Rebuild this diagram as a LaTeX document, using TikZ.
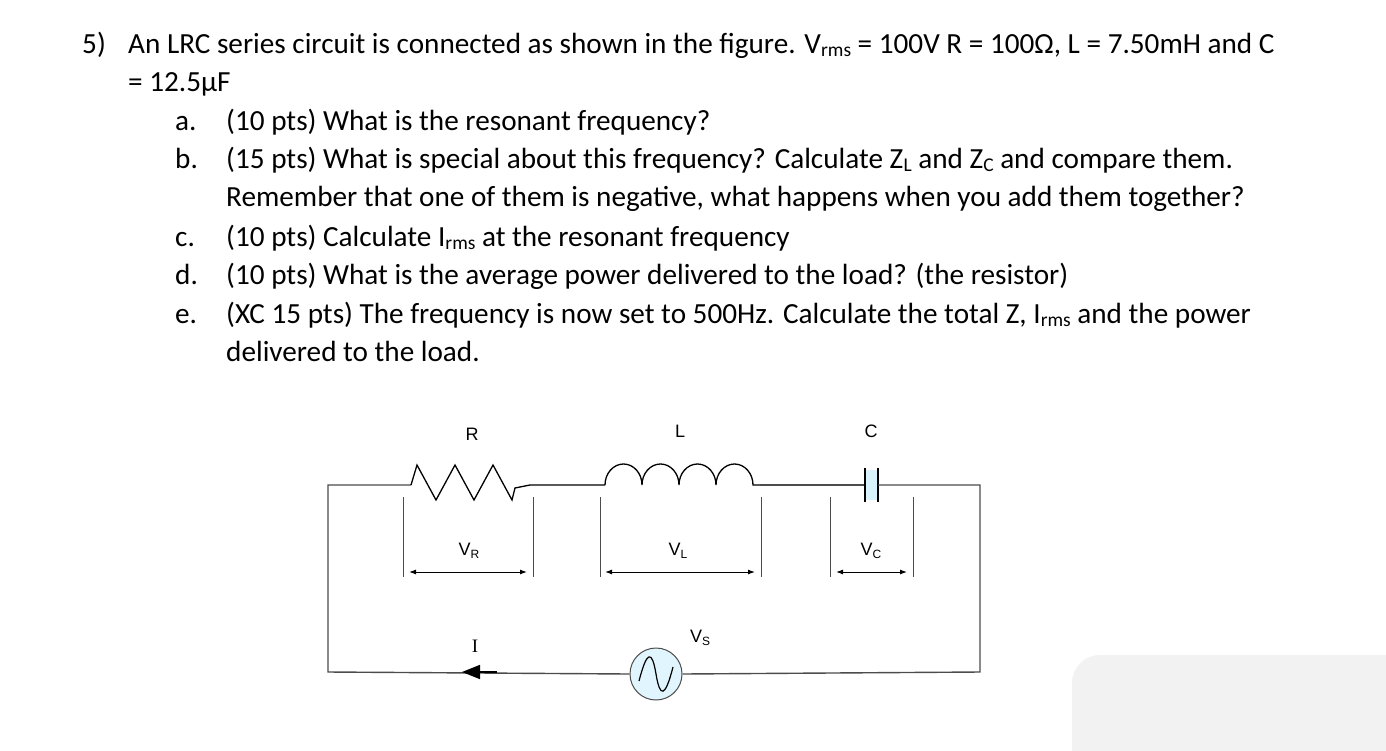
\documentclass[tikz,border=0pt]{standalone}
\usepackage{fontspec}
\setmainfont{Carlito}
\newfontfamily\lab{Liberation Sans}
\newfontfamily\serf{Liberation Serif}
\usetikzlibrary{arrows.meta}
\newcommand{\sbs}[1]{\raisebox{-0.25ex}{\fontsize{19.5}{19.5}\selectfont #1}}
\begin{document}
\begin{tikzpicture}[x=1pt,y=-1pt,
  txt/.style={anchor=base west,inner sep=0,font=\fontsize{29.2}{32}\selectfont},
  lbl/.style={inner sep=0,font=\lab\fontsize{18}{20}\selectfont},
  wire/.style={draw=black!70,line width=1.4pt},
  tick/.style={draw=black!70,line width=1pt},
  dim/.style={draw=black,line width=1pt,{Latex[length=7pt,width=5pt]}-{Latex[length=7pt,width=5pt]}}]
\useasboundingbox (0,0) rectangle (1386,750);
\fill[black!5,rounded corners=28pt] (1072,655) rectangle (1420,790);
% text
\node[txt] (n5) at (82,53) {5)};
\node[txt] (l1) at (128,53) {An LRC series circuit is connected as shown in the figure. V\sbs{rms} = 100V R = 100Ω, L = 7.50mH and C};
\node[txt] (l2) at (128,91) {= 12.5µF};
\node[txt] (qa) at (175,130) {a.};
\node[txt] (ta) at (226,130) {(10 pts) What is the resonant frequency?};
\node[txt] (qb) at (175,168) {b.};
\node[txt] (tb) at (226,168) {(15 pts) What is special about this frequency? Calculate Z\sbs{L} and Z\sbs{C} and compare them.};
\node[txt] (tb2) at (226,206) {Remember that one of them is negative, what happens when you add them together?};
\node[txt] (qc) at (175,246) {c.};
\node[txt] (tc) at (226,246) {(10 pts) Calculate I\sbs{rms} at the resonant frequency};
\node[txt] (qd) at (175,284) {d.};
\node[txt] (td) at (226,284) {(10 pts) What is the average power delivered to the load? (the resistor)};
\node[txt] (qe) at (175,323) {e.};
\node[txt] (te) at (226,323) {(XC 15 pts) The frequency is now set to 500Hz. Calculate the total Z, I\sbs{rms} and the power};
\node[txt] (te2) at (226,361) {delivered to the load.};
% circuit
\coordinate (tl) at (328,485); \coordinate (tr) at (980,485);
\coordinate (bl) at (328,672); \coordinate (br) at (980,672);
\coordinate (r1) at (411,485); \coordinate (r2) at (530,485);
\coordinate (l1a) at (605,485); \coordinate (l2a) at (760,485);
\coordinate (c1) at (865,485); \coordinate (c2) at (878,485);
\node[circle,draw=black!70,fill=cyan!12,line width=1pt,minimum size=52pt,inner sep=0] (src) at (656,674) {};
\draw[wire] (src.west) -- (bl) -- (tl) -- (r1);
\draw[line width=1.3pt] (r1) -- (417,465) -- (436,500) -- (455,465) -- (474,500) -- (493,465) -- (512,500) -- (515,488) -- (r2) -- (l1a);
\draw[line width=1.3pt] (l1a) arc (180:360:18.5 and 21) arc (180:360:18.5 and 21) arc (180:360:18.5 and 21) arc (180:360:18.5 and 21) -- (l2a);
\draw[wire] (l2a) -- (c1);
\fill[cyan!15] (865,470) rectangle (878,500);
\draw[line width=2.2pt] (865,468) -- (865,502) (878,468) -- (878,502);
\draw[wire] (c2) -- (tr) -- (br) -- (src.east);
\draw[line width=1.2pt] (639,681) .. controls (647,650) and (652,650) .. (656,674) .. controls (660,698) and (665,698) .. (673,667);
% ticks and dims
\draw[tick] (403,497) -- (403,577) (533,497) -- (533,577);
\draw[tick] (600,497) -- (600,577) (761,497) -- (761,577);
\draw[tick] (830,497) -- (830,577) (913,497) -- (913,577);
\coordinate (dr1) at (409,572); \coordinate (dr2) at (527,572);
\coordinate (dl1) at (605,572); \coordinate (dl2) at (755,572);
\coordinate (dc1) at (836,572); \coordinate (dc2) at (907,572);
\draw[dim] (dr1) -- (dr2);
\draw[dim] (dl1) -- (dl2);
\draw[dim] (dc1) -- (dc2);
\coordinate (ia) at (497,672); \coordinate (ib) at (462,672);
\draw[-{Triangle[length=18pt,width=14pt]},line width=1.6pt] (ia) -- (ib);
\node[lbl] (R) at (472,434) {R};
\node[lbl] (L) at (680,431) {L};
\node[lbl] (C) at (871,431) {C};
\node[lbl] (VR) at (469,551) {V\raisebox{-0.3ex}{\fontsize{12}{12}\selectfont R}};
\node[lbl] (VL) at (678,551) {V\raisebox{-0.3ex}{\fontsize{12}{12}\selectfont L}};
\node[lbl] (VC) at (871,551) {V\raisebox{-0.3ex}{\fontsize{12}{12}\selectfont C}};
\node[lbl] (Vs) at (700,638) {V\raisebox{-0.3ex}{\fontsize{12}{12}\selectfont S}};
\node[inner sep=0,font=\serf\fontsize{19}{20}\selectfont] (I) at (475,646) {I};
\end{tikzpicture}
\end{document}
